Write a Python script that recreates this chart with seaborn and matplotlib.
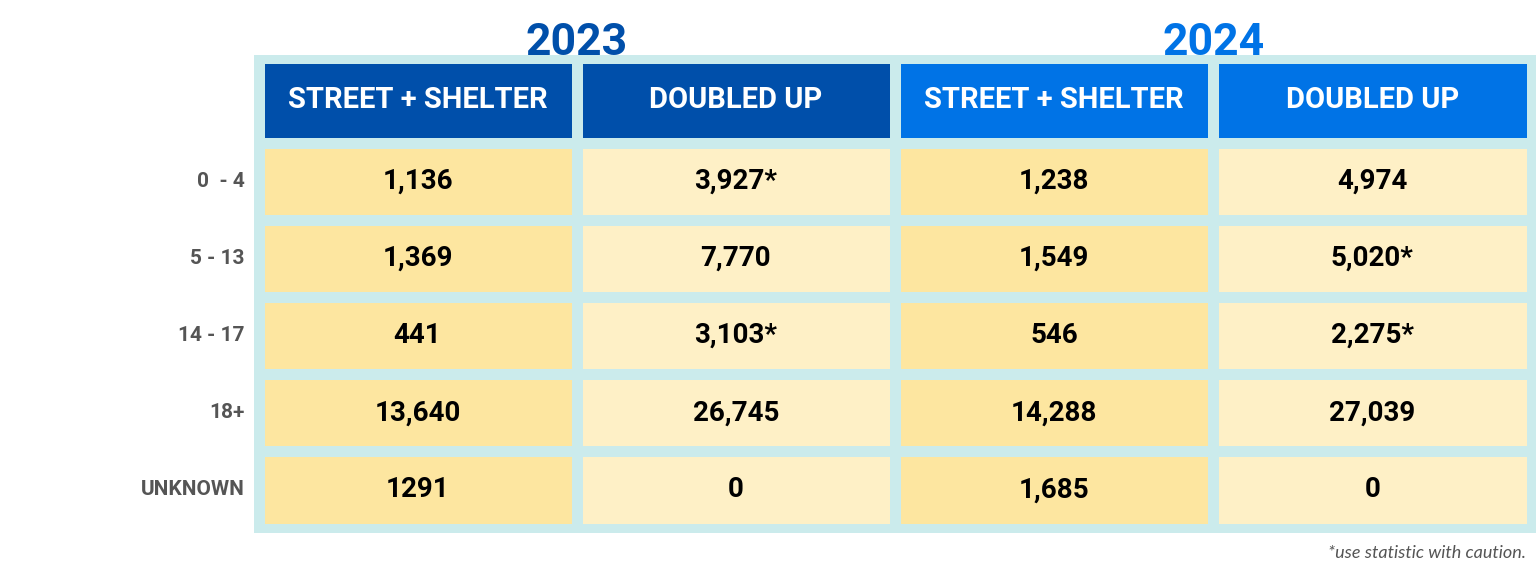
import matplotlib
matplotlib.use("Agg")
import matplotlib.pyplot as plt
import seaborn as sns
import numpy as np
from matplotlib.colors import ListedColormap
from matplotlib.patches import Rectangle

years = ["2023", "2024"]
columns = ["STREET + SHELTER", "DOUBLED UP", "STREET + SHELTER", "DOUBLED UP"]
age_groups = ["0  - 4", "5 - 13", "14 - 17", "18+", "UNKNOWN"]
ss_2023 = ["1,136", "1,369", "441", "13,640", "1291"]
du_2023 = ["3,927*", "7,770", "3,103*", "26,745", "0"]
ss_2024 = ["1,238", "1,549", "546", "14,288", "1,685"]
du_2024 = ["4,974", "5,020*", "2,275*", "27,039", "0"]
footnote = "*use statistic with caution."

sns.set_theme(style="white")
FONT = ["Roboto", "DejaVu Sans"]
plt.rcParams["font.family"] = FONT

W, H = 1536, 574
fig = plt.figure(figsize=(W / 100, H / 100), dpi=100)
BORDER = "#CBEBEC"

def ax_at(x0, y0, x1, y1, **kw):
    return fig.add_axes([x0 / W, 1 - y1 / H, (x1 - x0) / W, (y1 - y0) / H], **kw)

bg = ax_at(254, 55, 1536, 533, zorder=-5)
bg.set_facecolor(BORDER)
bg.set_xticks([]); bg.set_yticks([])
for s in bg.spines.values():
    s.set_visible(False)

lw = 6.5
# header
axh = ax_at(258.5, 57.5, 1531.5, 142.5)
hcodes = np.array([[0, 0, 1, 1]])
sns.heatmap(hcodes, ax=axh, cmap=ListedColormap(["#004FAA", "#0073E6"]), cbar=False,
            annot=np.array([columns]), fmt="", linewidths=lw, linecolor=BORDER,
            annot_kws=dict(color="white", fontsize=21, fontweight="bold"),
            xticklabels=False, yticklabels=False)

# body
axb = ax_at(258.5, 142.5, 1531.5, 528.5)
body = np.array([ss_2023, du_2023, ss_2024, du_2024]).T
codes = np.tile([0, 1, 0, 1], (len(age_groups), 1))
sns.heatmap(codes, ax=axb, cmap=ListedColormap(["#FDE6A0", "#FEF0C6"]), cbar=False,
            annot=body, fmt="", linewidths=lw, linecolor=BORDER,
            annot_kws=dict(color="black", fontsize=20, fontweight="bold"),
            xticklabels=False, yticklabels=age_groups)
axb.tick_params(axis="y", length=0, pad=10)
for t in axb.get_yticklabels():
    t.set_rotation(0)
    t.set_fontsize(15)
    t.set_fontweight("bold")
    t.set_color("#555555")
    t.set_ha("right")

# year titles
for i, (yr, col) in enumerate(zip(years, ["#004FAA", "#0073E6"])):
    axh.text(1 + 2 * i, 0.08, yr, ha="center", va="bottom", fontsize=32,
             fontweight="bold", color=col, transform=axh.transData, clip_on=False)

fig.text(1526 / W, 1 - 553 / H, footnote, ha="right", va="center", fontsize=13,
         style="italic", color="#555555", family=["Lato", "DejaVu Sans"])

fig.savefig("out.png", dpi=100)
